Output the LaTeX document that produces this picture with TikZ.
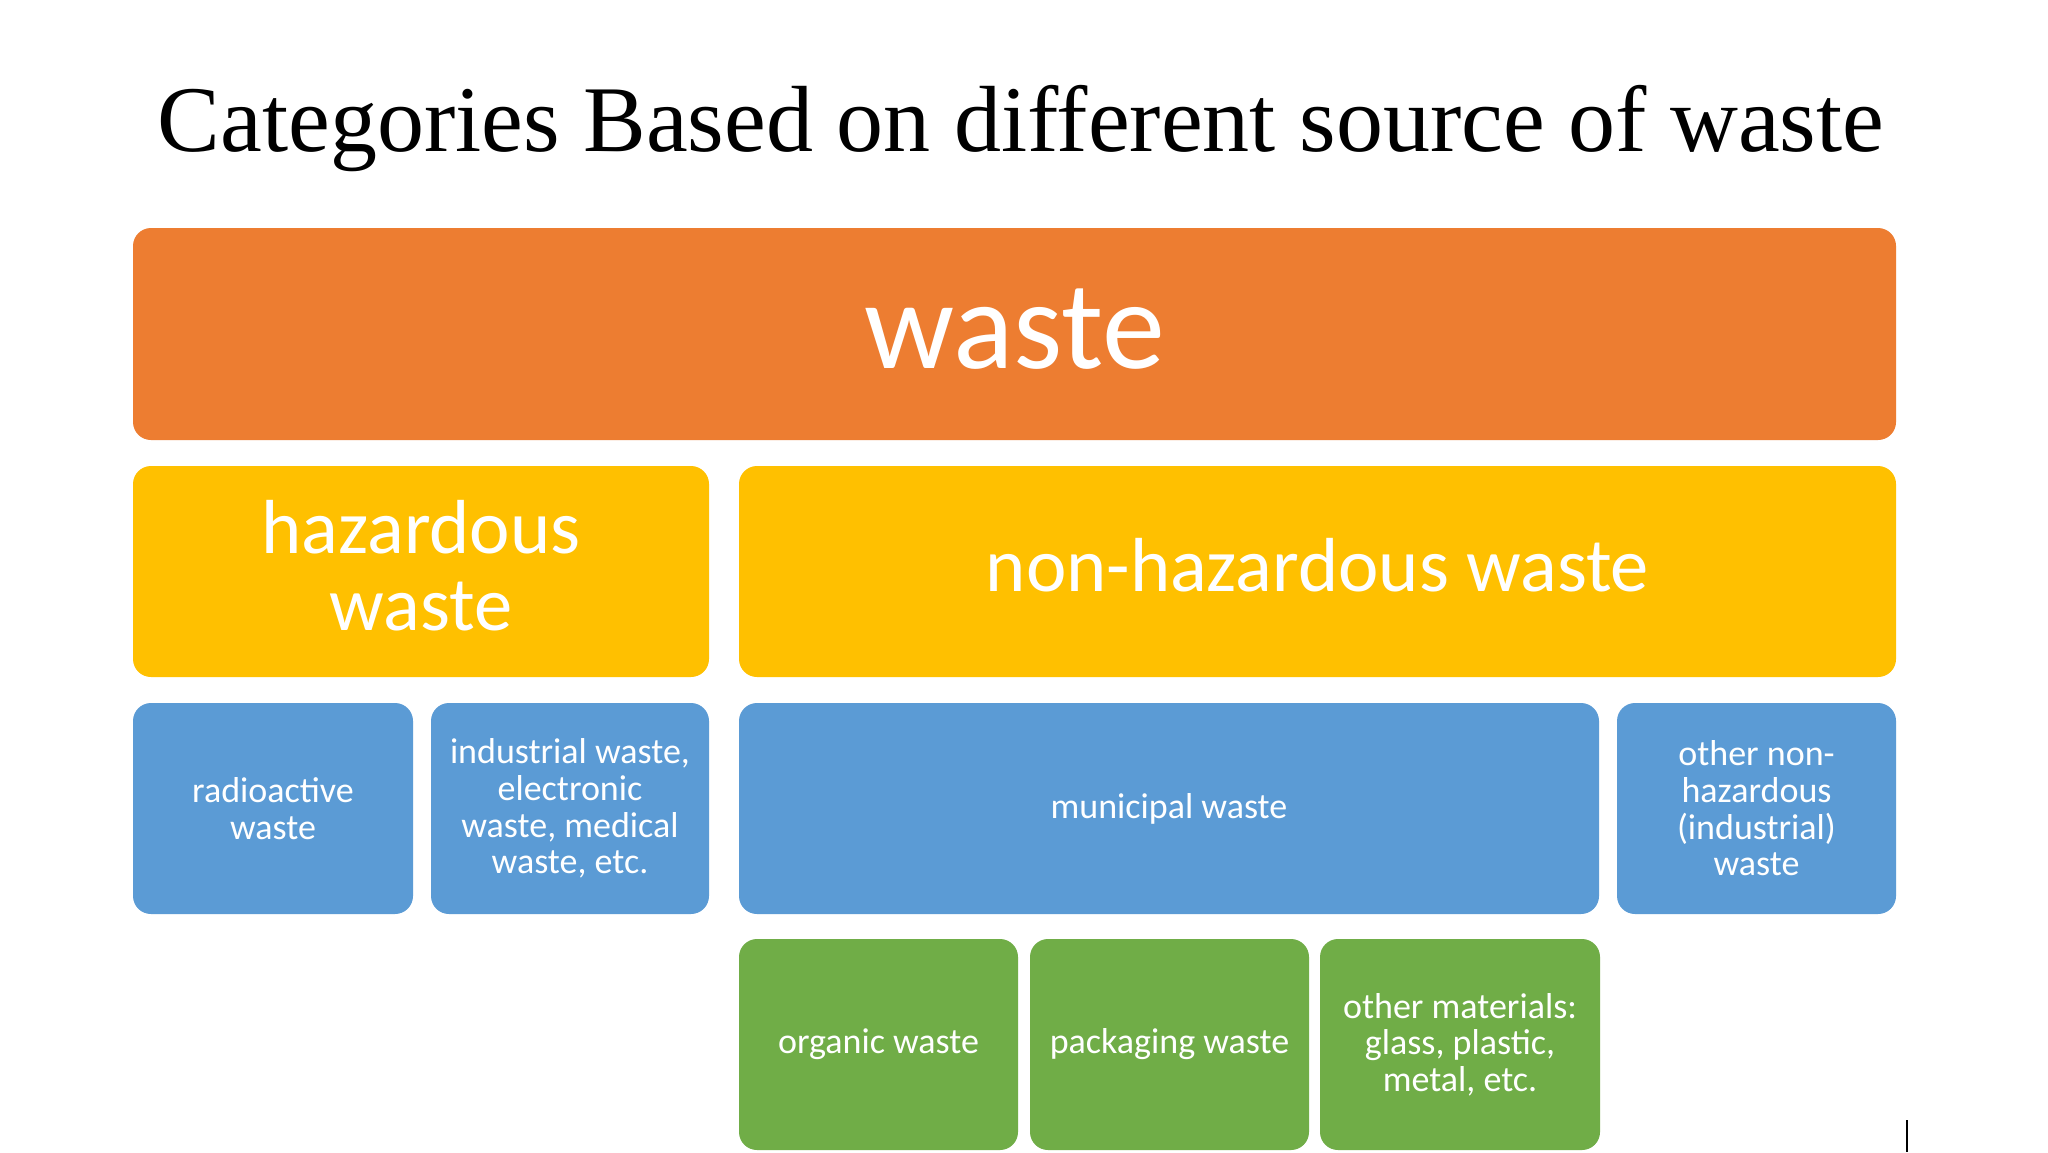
\documentclass[tikz,border=0pt]{standalone}
\usepackage{fontspec}
\setmainfont{Carlito}
\newfontfamily\titlefont{Liberation Serif}
\definecolor{wOrange}{HTML}{ED7D31}
\definecolor{wGold}{HTML}{FFC000}
\definecolor{wBlue}{HTML}{5B9BD5}
\definecolor{wGreen}{HTML}{70AD47}
\tikzset{
  wbox/.style={rectangle, rounded corners=9pt, inner sep=0pt, align=center, text=white, minimum height=105.5pt},
  wlabel/.style={inner sep=0pt, align=center, text=white},
  smalltxt/.style={font=\fontsize{18}{18.3}\selectfont},
  midtxt/.style={font=\fontsize{38.3}{38.8}\selectfont},
  bigtxt/.style={font=\fontsize{63}{63}\selectfont},
}
\begin{document}
\begin{tikzpicture}[x=0.5pt,y=-0.5pt]
\useasboundingbox[fill=white] (0,0) rectangle (2048,1152);
\node[anchor=base, font=\titlefont\fontsize{47}{48}\selectfont] (title) at (1021,151) {Categories Based on different source of waste};
\node[wbox, fill=wOrange, minimum width=881.5pt, minimum height=106pt] (waste) at (1014.5,334) {};
\node[wlabel, bigtxt] (wastelabel) at ([yshift=2.5pt]waste.center) {waste};
\node[wbox, fill=wGold, minimum width=288pt] (haz) at (421,571.5) {};
\node[wlabel, midtxt] (hazlabel) at ([yshift=3pt]haz.center) {hazardous\\waste};
\node[wbox, fill=wGold, minimum width=578.5pt] (nonhaz) at (1317.5,571.5) {};
\node[wlabel, midtxt] (nonhazlabel) at ([yshift=3pt]nonhaz.center) {non-hazardous waste};
\node[wbox, smalltxt, fill=wBlue, minimum width=140pt] (radio) at (273,808.5) {radioactive\\waste};
\node[wbox, smalltxt, fill=wBlue, minimum width=139pt] (indust) at (570,808.5) {industrial waste,\\electronic\\waste, medical\\waste, etc.};
\node[wbox, smalltxt, fill=wBlue, minimum width=430pt] (muni) at (1169,808.5) {municipal waste};
\node[wbox, smalltxt, fill=wBlue, minimum width=139.5pt] (othernon) at (1756.5,808.5) {other non-\\hazardous\\(industrial)\\waste};
\node[wbox, smalltxt, fill=wGreen, minimum width=139.5pt] (organic) at (878.5,1044.5) {organic waste};
\node[wbox, smalltxt, fill=wGreen, minimum width=139.5pt] (pack) at (1169.5,1044.5) {packaging waste};
\node[wbox, smalltxt, fill=wGreen, minimum width=140pt] (othermat) at (1460,1044.5) {other materials:\\glass, plastic,\\metal, etc.};
\coordinate (curtop) at (1907,1120);
\coordinate (curbot) at (1907,1152);
\draw[line width=1pt] (curtop) -- (curbot);
\end{tikzpicture}
\end{document}
